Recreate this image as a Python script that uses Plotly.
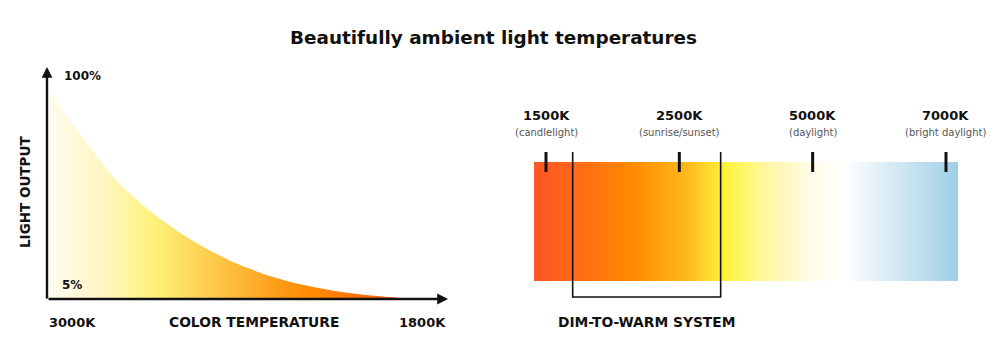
import plotly.graph_objects as go

W, H = 1000, 358
FONT = "DejaVu Sans, Inter, sans-serif"

# ---------------- data ----------------
# Left chart: light output (%) vs colour temperature (K) for dim-to-warm
temp_k = [3000, 2950, 2905, 2845, 2790, 2735, 2675, 2615, 2560, 2485,
          2375, 2255, 2145, 2030, 1915, 1800]
output_pct = [100, 90, 81, 70, 60, 52, 44.5, 38, 32.5, 26,
              18, 11.5, 7.2, 4, 1.9, 0.5]
y_labels = ["100%", "5%"]
x_labels = ["3000K", "1800K"]

# Right chart: colour temperature scale
scale_labels = ["1500K", "2500K", "5000K", "7000K"]
scale_notes = ["(candlelight)", "(sunrise/sunset)", "(daylight)", "(bright daylight)"]
scale_pos = [0, 1, 2, 3]
dim_to_warm = [0.2, 1.31]   # bracket extent on the scale

# ---------------- styles ----------------
curve_scale = [
    [0.00, "#fffcee"], [0.15, "#fff6c2"], [0.30, "#fff17a"], [0.42, "#fdd556"],
    [0.55, "#fcb535"], [0.68, "#ff9610"], [0.76, "#ff8800"], [0.90, "#ff6d10"],
    [1.00, "#ff5a16"],
]
bar_scale = [
    [0.00, "#ff5424"], [0.09, "#ff681a"], [0.23, "#ff8a00"], [0.36, "#ffb81c"],
    [0.45, "#fff43a"], [0.55, "#fff7a2"], [0.65, "#fffbe6"], [0.73, "#ffffff"],
    [1.00, "#9ecfe6"],
]
bar_span = [-0.09, 3.09]
tick_half = 0.084


def px(x):
    return x / W


def py(y):
    return 1 - y / H


fig = go.Figure()

# left: gradient area under the curve
fig.add_trace(go.Scatter(
    x=temp_k, y=output_pct, mode="lines", line=dict(width=0, shape="spline", smoothing=0.6),
    fill="tozeroy",
    fillgradient=dict(type="horizontal", colorscale=curve_scale,
                      start=temp_k[0], stop=temp_k[-1]),
    xaxis="x", yaxis="y", hoverinfo="skip", showlegend=False,
))

# right: gradient bar
fig.add_trace(go.Scatter(
    x=[bar_span[0], bar_span[1], bar_span[1], bar_span[0], bar_span[0]],
    y=[0, 0, 1, 1, 0], mode="lines", line=dict(width=0), fill="toself",
    fillgradient=dict(type="horizontal", colorscale=bar_scale,
                      start=bar_span[0], stop=bar_span[1]),
    xaxis="x2", yaxis="y2", hoverinfo="skip", showlegend=False,
))

# right: tick marks
tx, ty = [], []
for p in scale_pos:
    tx += [p, p, None]
    ty += [1 - tick_half, 1 + tick_half, None]
fig.add_trace(go.Scatter(x=tx, y=ty, mode="lines", line=dict(color="#111", width=3),
                         xaxis="x2", yaxis="y2", hoverinfo="skip", showlegend=False))

# right: dim-to-warm bracket
fig.add_trace(go.Scatter(
    x=[dim_to_warm[0], dim_to_warm[0], dim_to_warm[1], dim_to_warm[1]],
    y=[1 + tick_half, -0.134, -0.134, 1 + tick_half],
    mode="lines", line=dict(color="#111", width=1.6),
    xaxis="x2", yaxis="y2", hoverinfo="skip", showlegend=False,
))

ann = []


def label(text, x, y, size, xanchor="center", angle=0, color="#111", bold=True):
    f = dict(size=size, color=color, family=FONT)
    ann.append(dict(text=("<b>%s</b>" % text) if bold else text, x=x, y=y,
                    xref="paper", yref="paper", xanchor=xanchor, yanchor="middle",
                    showarrow=False, textangle=angle, font=f))


# title
label("Beautifully ambient light temperatures", px(493), py(37), 18.4)

# axis arrows (left chart)
ann.append(dict(x=px(448), y=py(299), ax=-401, ay=0, xref="paper", yref="paper",
                text="", showarrow=True, arrowhead=2, arrowwidth=2.4, arrowsize=0.9,
                arrowcolor="#111"))
ann.append(dict(x=px(47), y=py(67), ax=0, ay=233, xref="paper", yref="paper",
                text="", showarrow=True, arrowhead=2, arrowwidth=2.4, arrowsize=0.9,
                arrowcolor="#111"))

label(y_labels[0], px(62), py(76), 12, xanchor="left")
label(y_labels[1], px(60), py(285), 12, xanchor="left")
label(x_labels[0], px(47), py(322), 13, xanchor="left")
label(x_labels[1], px(448), py(322), 13, xanchor="right")
label("COLOR TEMPERATURE", px(254), py(322), 13.8)
label("LIGHT OUTPUT", px(25), py(192), 13.5, angle=-90)

# right labels
for p, lab, note in zip(scale_pos, scale_labels, scale_notes):
    ann.append(dict(text="<b>%s</b>" % lab, x=p, y=1.387, xref="x2", yref="y2",
                    xanchor="center", yanchor="middle", showarrow=False,
                    font=dict(size=13, color="#111", family=FONT)))
    ann.append(dict(text=note, x=p, y=1.244, xref="x2", yref="y2",
                    xanchor="center", yanchor="middle", showarrow=False,
                    font=dict(size=10, color="#555", family=FONT)))
ann.append(dict(text="<b>DIM-TO-WARM SYSTEM</b>", x=sum(dim_to_warm) / 2, y=-0.345,
                xref="x2", yref="y2", xanchor="center", yanchor="middle", showarrow=False,
                font=dict(size=13.8, color="#111", family=FONT)))

# axis ranges chosen so the panels land where the reference has them
k_per_px = (temp_k[0] - temp_k[-1]) / 350.0
fig.update_layout(
    width=W, height=H, margin=dict(l=0, r=0, t=0, b=0),
    paper_bgcolor="white", plot_bgcolor="white",
    xaxis=dict(domain=[0, 0.5], range=[3000 + 50 * k_per_px, 3000 - 450 * k_per_px],
               visible=False, fixedrange=True),
    yaxis=dict(domain=[0, 1], range=[-59 / 2.07, 299 / 2.07], visible=False, fixedrange=True),
    xaxis2=dict(domain=[0.5, 1], range=[(500 - 546) / 133.33, (1000 - 546) / 133.33],
                visible=False, fixedrange=True),
    yaxis2=dict(domain=[0, 1], range=[-77 / 119, 1 + 162 / 119], visible=False,
                fixedrange=True, anchor="x2"),
    annotations=ann,
    showlegend=False,
)

fig.write_html("out.html")
